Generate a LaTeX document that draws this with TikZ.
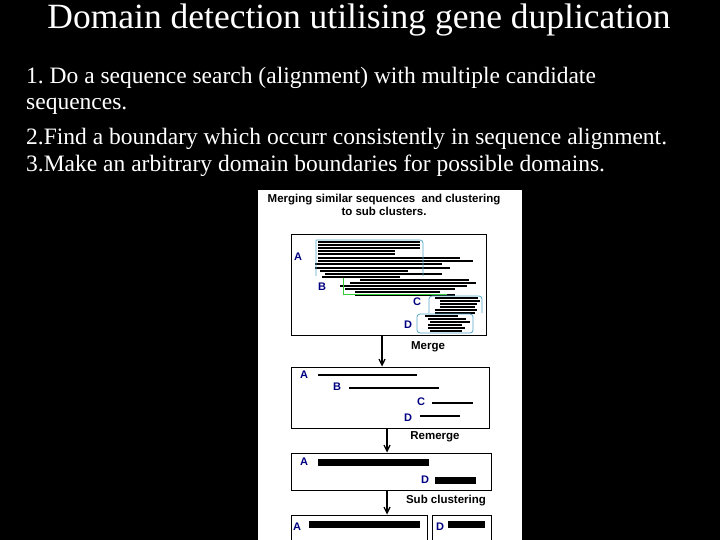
\documentclass[tikz,border=0pt]{standalone}
\usepackage{fontspec}
\setmainfont{Liberation Serif}
\newfontfamily\figfont{Liberation Sans}
\usetikzlibrary{arrows.meta}
\frenchspacing
\begin{document}
\begin{tikzpicture}[x=1pt,y=-1pt,
  seq/.style={line width=1.3pt},
  mid/.style={line width=2.8pt},
  fat/.style={line width=7pt},
  frame/.style={draw=black,line width=1pt},
  lab/.style={font=\figfont\bfseries\fontsize{11}{12}\selectfont, text=blue!50!black, inner sep=0pt},
  figcap/.style={font=\figfont\bfseries\fontsize{11.5}{12.5}\selectfont, inner sep=0pt},
  flow/.style={-{Straight Barb[length=6pt,width=6pt]}, line width=1.3pt},
  body/.style={font=\fontsize{23.5}{26}\selectfont, text=white, anchor=west, inner sep=0pt}]
\fill[black] (0,0) rectangle (720,540);
\useasboundingbox (0,0) rectangle (720,540);
\node[text=white, font=\fontsize{35.5}{38}\selectfont] (title) at (359,20) {Domain detection utilising gene duplication};
\node[body] (l1) at (26,78) {1. Do a sequence search (alignment) with multiple candidate};
\node[body] (l2) at (26,106) {sequences.};
\node[body] (l3) at (26,139) {2.Find a boundary which occurr consistently in sequence alignment.};
\node[body] (l4) at (26,166) {3.Make an arbitrary domain boundaries for possible domains.};
\fill[white] (258,190) rectangle (522,540);
\node[figcap, align=center] (head) at (384,205) {Merging similar sequences\ \ and clustering\\to sub clusters.};
% box 1
\node[frame, minimum width=195pt, minimum height=101pt, anchor=north west, inner sep=0pt] (b1) at (290.5,233.5) {};
\foreach \y/\a/\b in {242/318/420,245/318/420,248/318/420,251/318/395,254/318/395,258/318/460,261/318/473,264/315/442,268/315/450,271/320/408,274/325/442,277/322/400,280/360/469,283/350/476,286/340/467,289/345/455,292/355/440,295/355/455,298/435/478,301/440/480,304/440/477,307/440/475,310/435/477,313/435/475,316/425/458,319/428/466,322/430/470,325/428/462,328/428/465,331/430/462}
  \draw[seq] (\a,\y) -- (\b,\y);
\draw[cyan!60!gray, rounded corners=3pt, line width=0.8pt] (316,240) -- (316,276) (316,240) -- (423,240) -- (423,276);
\draw[green!60!gray, line width=1pt] (343,278) -- (343,294.5) -- (447,294.5);
\draw[cyan!60!gray, rounded corners=3pt, line width=0.8pt] (429,313) -- (429,296) -- (482,296) -- (482,313);
\draw[cyan!60!gray, rounded corners=3pt, line width=0.8pt] (417,314) rectangle (473,333);
\node[lab] (a1) at (298,257) {A};
\node[lab] (bl1) at (322,287) {B};
\node[lab] (c1) at (417,302) {C};
\node[lab] (d1) at (408,325) {D};
% box 2
\node[frame, minimum width=198pt, minimum height=61pt, anchor=north west, inner sep=0pt] (b2) at (290.5,366.5) {};
\draw[mid] (318,375) -- (417,375);
\draw[mid] (349,388) -- (439,388);
\draw[mid] (432,403) -- (473,403);
\draw[mid] (420,416) -- (460,416);
\node[lab] (a2) at (304,375) {A};
\node[lab] (bl2) at (337,387) {B};
\node[lab] (c2) at (421,402) {C};
\node[lab] (d2) at (408,418) {D};
% box 3
\node[frame, minimum width=200pt, minimum height=37pt, anchor=north west, inner sep=0pt] (b3) at (290.5,452.5) {};
\draw[fat] (318,462) -- (429,462);
\draw[fat] (435,480) -- (476,480);
\node[lab] (a3) at (304,462) {A};
\node[lab] (d3) at (425,480) {D};
% box 4
\node[frame, minimum width=136pt, minimum height=30pt, anchor=north west, inner sep=0pt] (b4a) at (290.5,514.5) {};
\node[frame, minimum width=59pt, minimum height=30pt, anchor=north west, inner sep=0pt] (b4b) at (432,514.5) {};
\draw[fat] (309,524) -- (420,524);
\draw[fat] (448,524) -- (485,524);
\node[lab] (a4) at (297,527) {A};
\node[lab] (d4) at (440,527) {D};
% arrows
\draw[flow] (b1.south -| 382,0) -- (b2.north -| 382,0);
\draw[flow] (b2.south -| 387,0) -- (b3.north -| 387,0);
\draw[flow] (b3.south -| 387,0) -- (b4a.north -| 387,0);
\node[figcap] (m1) at (428,347) {Merge};
\node[figcap] (m2) at (435,437) {Remerge};
\node[figcap] (m3) at (446,501) {Sub clustering};
\end{tikzpicture}
\end{document}
